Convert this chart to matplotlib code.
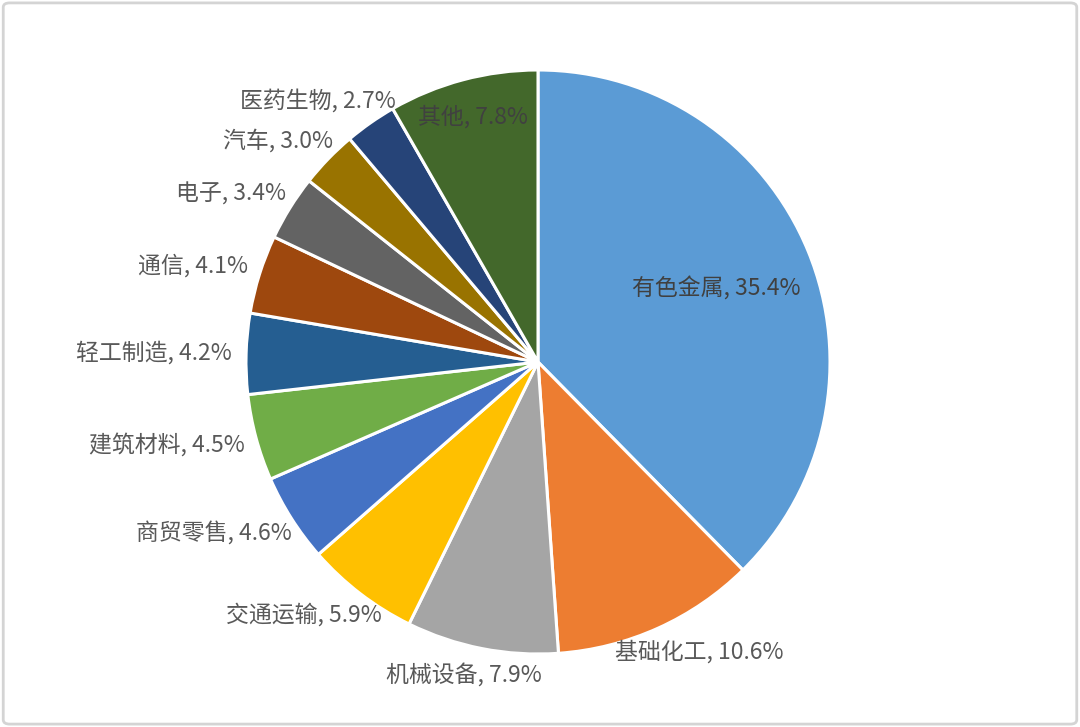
import numpy as np
import matplotlib
matplotlib.use("Agg")
import matplotlib.pyplot as plt
from matplotlib.patches import FancyBboxPatch

plt.rcParams['font.family'] = ['Noto Sans CJK SC', 'DejaVu Sans']

# data, clockwise from 12 o'clock
industries = ['有色金属', '基础化工', '机械设备', '交通运输', '商贸零售', '建筑材料',
              '轻工制造', '通信', '电子', '汽车', '医药生物', '其他']
shares = [35.4, 10.6, 7.9, 5.9, 4.6, 4.5, 4.2, 4.1, 3.4, 3.0, 2.7, 7.8]
colors = ['#5B9BD5', '#ED7D31', '#A5A5A5', '#FFC000', '#4472C4', '#70AD47',
          '#255E91', '#9E480E', '#636363', '#997300', '#264478', '#43682B']

# labels drawn inside the slice (radius fraction), the rest go outside
inside = {'有色金属': 0.66, '其他': 0.87}

W, H = 1080, 727
fig = plt.figure(figsize=(W / 100, H / 100), dpi=100)
ax = fig.add_axes([0, 0, 1, 1])

cx, cy, r = 538, H - 362, 292
wedges, _ = ax.pie(shares, colors=colors, startangle=90, counterclock=False,
                   center=(cx, cy), radius=r, frame=True,
                   wedgeprops=dict(edgecolor='white', linewidth=2.2))
ax.set_xlim(0, W)
ax.set_ylim(0, H)
ax.set_aspect('equal')
ax.axis('off')

fs = 16.5
fig.canvas.draw()
renderer = fig.canvas.get_renderer()
for w, name, val in zip(wedges, industries, shares):
    mid = np.deg2rad((w.theta1 + w.theta2) / 2)
    c, s = np.cos(mid), np.sin(mid)
    label = f'{name}, {val:.1f}%'
    if name in inside:
        d = inside[name] * r
        ax.text(cx + d * c, cy + d * s, label, ha='center', va='center',
                fontsize=fs, color='#404040')
        continue
    t = ax.text(0, 0, label, ha='center', va='center', fontsize=fs, color='#595959')
    bb = t.get_window_extent(renderer)
    tw, th = bb.width, bb.height
    d = 1.05 * r
    t.set_position((cx + d * c + tw / 2 * c, cy + d * s + th / 2 * s))

frame = FancyBboxPatch((0.003, 0.004), 0.994, 0.992, boxstyle='round,pad=0,rounding_size=0.006',
                       transform=fig.transFigure, fill=False, edgecolor='#d4d4d4', linewidth=2)
fig.patches.append(frame)

fig.savefig('out.png', dpi=100)
